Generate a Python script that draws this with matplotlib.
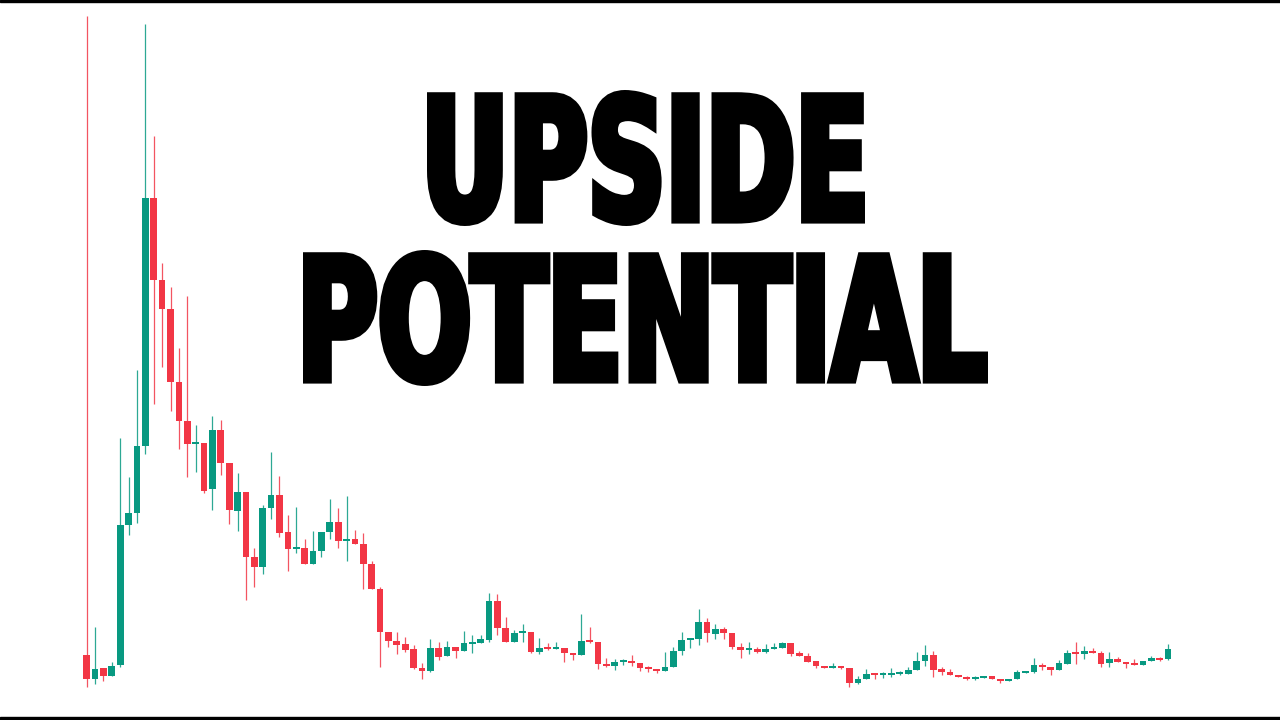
import numpy as np
import matplotlib
matplotlib.use("Agg")
import matplotlib.pyplot as plt
from matplotlib.patches import Rectangle
from matplotlib.patheffects import AbstractPathEffect
from matplotlib.transforms import Affine2D

# ---------------- data (OHLC) ----------------
opens = [65.5, 41.3, 52, 44, 55, 194.6, 207.4, 274, 522, 440,
         411, 338, 299, 276, 277.3, 231, 290, 257, 209.3, 228,
         163, 153, 212, 225, 188, 171, 172, 156, 169, 188,
         198, 179, 181, 176, 156, 131, 88, 79, 76, 71,
         52, 49, 72, 64, 73, 69, 76, 77, 80, 119,
         92, 78, 87, 88, 68, 72.5, 71.5, 72, 67, 65,
         79.5, 78, 56, 54, 58.5, 59, 57, 52, 51, 49,
         53, 69, 80.5, 81, 98, 86, 91, 87, 73, 70,
         71, 68, 71, 72, 77, 67, 64, 59, 54, 52,
         54, 52, 37, 41, 46, 45.5, 45.5, 46.5, 46, 50,
         59, 65, 51, 48, 45, 43, 41.5, 42, 44, 41,
         39, 41, 47, 48, 55, 53, 50, 56, 67.5, 66,
         69, 67, 57, 61, 58, 56.5, 55, 59, 61.5, 61]
highs = [704, 93, 52, 58, 282, 243, 350, 696, 584.5, 457,
         433, 372, 424, 295, 277.3, 304, 300, 257, 247, 228,
         172, 215, 268, 244, 205, 213, 181, 189, 188, 221,
         212, 224, 190, 187, 159, 133, 88, 88, 83, 75,
         57, 81, 78, 79, 73, 89, 85, 85, 127, 126,
         103, 90, 96, 88, 82, 77, 78, 72, 67, 106,
         93, 78, 62, 61, 61, 65, 57, 54, 51, 68,
         73, 88, 82, 111, 102, 96, 93, 87, 77, 78,
         73, 76, 77, 78, 77, 69, 67, 59, 54, 57,
         54, 52, 44, 51, 46, 48, 52, 49, 53, 68,
         75, 69, 53, 51, 45, 44, 44, 44, 44, 41,
         41, 50, 49, 62, 57, 53, 60, 70, 78, 74,
         72, 69, 68, 63, 58, 61, 59, 64, 63, 76]
lows = [33.5, 36, 39.5, 44, 53, 185.4, 197, 266, 316, 353,
        309.5, 271, 243, 248, 227, 210, 245, 196, 189, 120,
        133, 146, 201, 183, 149, 167, 156, 156, 163, 181,
        172, 159, 176, 131, 131, 53, 73, 66, 68, 51,
        41, 48, 60, 64, 62, 69, 67, 77, 78, 85,
        78, 78, 78, 67, 66, 70, 71, 58, 60, 65,
        77, 51, 53, 50, 55, 54, 49, 48, 47, 49,
        53, 65, 72, 75, 78, 81, 81, 71, 62, 66,
        67, 67, 71, 72, 64, 64, 58, 52, 52, 52,
        51, 33, 36, 41, 41, 42, 43, 45, 46, 50,
        54, 43, 45, 45, 43, 40, 40, 42, 41, 37,
        39, 41, 47, 47, 50, 45, 50, 56, 56, 61,
        67, 53, 53, 58, 52, 55, 55, 59, 59, 60]
closes = [41.3, 51, 44, 54, 195, 207.4, 274, 522, 440, 411,
          338, 299, 276, 277.5, 229, 290, 257, 210, 228, 163,
          153, 212, 225, 187, 171, 172.5, 156, 169, 188, 198,
          179, 181, 176, 156, 131, 88, 79, 75, 70, 52,
          49, 72, 63, 73, 69, 77, 77, 81, 119, 92,
          78, 87, 88, 68, 72, 71.5, 72.5, 67, 65, 79,
          78.5, 56, 54, 58, 59.5, 57, 52, 51, 49, 53,
          69, 80, 81.5, 98, 87, 91, 87, 73, 70, 72,
          68, 71, 72, 77, 66, 64, 58, 54, 52, 54,
          52, 37, 41, 46, 45, 46.5, 46.5, 47.5, 50, 59,
          65, 50, 48, 45, 43, 41, 42.5, 44, 41, 39,
          41, 48, 49, 55, 53, 50, 57, 67, 66.5, 69,
          67, 56, 61, 58, 56, 55.5, 59, 62, 60.5, 71]

title_lines = ["UPSIDE", "POTENTIAL"]

UP = "#089981"
DOWN = "#F23645"

# ---------------- figure ----------------
W, H, DPI = 1280, 720, 100
fig = plt.figure(figsize=(W / DPI, H / DPI), dpi=DPI, facecolor="white")
ax = fig.add_axes([0, 0, 1, 1])
ax.set_facecolor("white")

o = np.array(opens, float)
hi = np.array(highs, float)
lo = np.array(lows, float)
c = np.array(closes, float)
x = np.arange(len(o))
up = c >= o
cols = np.where(up, UP, DOWN)

ax.vlines(x, lo, hi, colors=cols, linewidth=0.9, alpha=0.85, zorder=2)
bottoms = np.minimum(o, c)
heights = np.maximum(np.abs(c - o), 1.6)
ax.bar(x, heights, bottom=bottoms, width=0.8, color=cols, linewidth=0, zorder=3)

step = (1168 - 86.7) / (len(x) - 1)
x_left = -86.7 / step
ax.set_xlim(x_left, x_left + W / step)
ax.set_ylim(0, 720)
ax.axis("off")


# ---------------- title ----------------
class FitBox(AbstractPathEffect):
    """Stretch text glyphs to fill a box (pixel coords, top-left origin)."""

    def __init__(self, box, lw):
        super().__init__()
        self.box = box
        self.lw = lw

    def draw_path(self, renderer, gc, tpath, affine, rgbFace=None):
        ext = tpath.get_extents(affine)
        cw, ch = renderer.get_canvas_width_height()
        x0, y0, x1, y1 = self.box
        pad = renderer.points_to_pixels(self.lw) / 2.0
        tx0, tx1 = x0 + pad, x1 - pad
        ty0, ty1 = ch - y1 + pad, ch - y0 - pad
        t = affine + Affine2D().translate(-ext.x0, -ext.y0).scale(
            (tx1 - tx0) / ext.width, (ty1 - ty0) / ext.height).translate(tx0, ty0)
        gc2 = renderer.new_gc()
        gc2.copy_properties(gc)
        gc2.set_linewidth(self.lw)
        gc2.set_foreground("black")
        gc2.set_joinstyle("miter")
        renderer.draw_path(gc2, tpath, t, rgbFace)
        gc2.restore()


boxes = [(427, 90, 865, 226), (303, 250, 988, 386)]
for s, b in zip(title_lines, boxes):
    cx = (b[0] + b[2]) / 2 / W
    cy = 1 - (b[1] + b[3]) / 2 / H
    fig.text(cx, cy, s, fontsize=78, fontweight="bold",
             family=["Liberation Sans Narrow", "DejaVu Sans"], color="black",
             ha="center", va="center",
             path_effects=[FitBox(b, 5.8)])

# thin black frame bars at top and bottom
fig.add_artist(Rectangle((0, 1 - 2 / H), 1, 2 / H, transform=fig.transFigure,
                         color="black", zorder=10))
fig.add_artist(Rectangle((0, 0), 1, 3 / H, transform=fig.transFigure,
                         color="black", zorder=10))

fig.savefig("out.png", dpi=DPI, facecolor="white")
